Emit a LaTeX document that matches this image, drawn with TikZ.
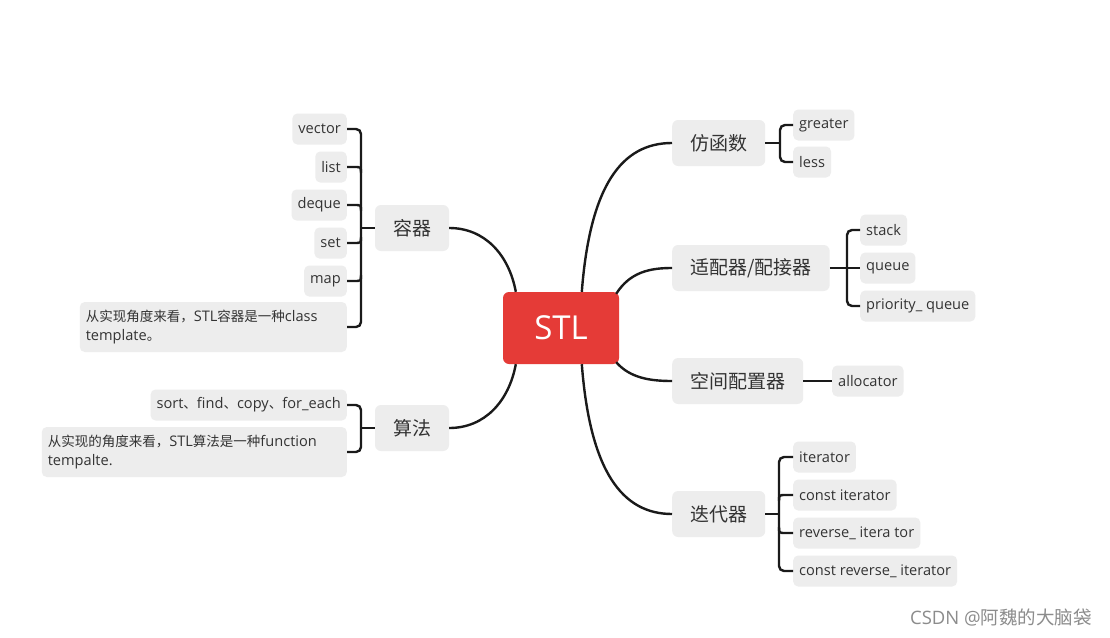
\documentclass[tikz,border=0pt]{standalone}
\usepackage{fontspec}
\setmainfont{Open Sans}
\newfontfamily\cjk{Noto Sans CJK SC}
\newcommand\zh[1]{{\cjk\fontsize{13.5}{19.5}\selectfont #1}}
\usetikzlibrary{calc}
\definecolor{leaf}{HTML}{EDEDED}
\definecolor{stlred}{HTML}{E53B37}
\definecolor{ln}{HTML}{1A1A1A}
\definecolor{txt}{HTML}{333333}
\begin{document}
\begin{tikzpicture}[x=1pt,y=-1pt,
 leafbox/.style={fill=leaf, rounded corners=5pt, minimum height=31pt, inner xsep=6pt, inner ysep=0pt, font=\fontsize{14.6}{16}\selectfont, text=txt},
 longbox/.style={leafbox, minimum height=50pt, align=left, font=\fontsize{14.6}{19.5}\selectfont},
 mainbox/.style={fill=leaf, rounded corners=6pt, minimum height=46pt, inner xsep=18pt, font=\cjk\fontsize{19}{22}\selectfont, text=txt},
 conn/.style={draw=ln, line width=2.4pt},
 br/.style={conn, rounded corners=5pt}]
\useasboundingbox[fill=white] (0,0) rectangle (1110,637);

% central
\node[fill=stlred, rounded corners=6pt, minimum width=116pt, minimum height=72pt, text=white, font=\fontsize{33}{36}\selectfont] (stl) at (561,328) {STL};

% main nodes
\node[mainbox] (rq) at (412,228) {容器};
\node[mainbox] (sf) at (412,428) {算法};
\node[mainbox, anchor=west] (fhs) at (672,143) {仿函数};
\node[mainbox, anchor=west] (spq) at (672,268) {适配器/配接器};
\node[mainbox, anchor=west] (kj) at (672,381) {空间配置器};
\node[mainbox, anchor=west] (ddq) at (672,514) {迭代器};

% left leaves (容器)
\node[leafbox, anchor=east] (vector) at (347,129) {vector};
\node[leafbox, anchor=east] (list) at (347,167) {list};
\node[leafbox, anchor=east] (deque) at (347,205) {deque};
\node[leafbox, anchor=east] (set) at (347,243) {set};
\node[leafbox, anchor=east] (map) at (347,281) {map};
\node[longbox, anchor=east, text width=255pt] (cls) at (347,327) {\zh{从实现角度来看，}STL\zh{容器是一种}class\\template\zh{。}};

% left leaves (算法)
\node[leafbox, anchor=east] (sort) at (347,405) {sort\zh{、}find\zh{、}copy\zh{、}for\_each};
\node[longbox, anchor=east, text width=293pt] (fun) at (347,452) {\zh{从实现的角度来看，}STL\zh{算法是一种}function\\tempalte.};

% right leaves
\node[leafbox, anchor=west] (greater) at (793,125) {greater};
\node[leafbox, anchor=west] (less) at (793,162) {less};
\node[leafbox, anchor=west] (stack) at (860,230) {stack};
\node[leafbox, anchor=west] (queue) at (860,268) {queue};
\node[leafbox, anchor=west] (pq) at (860,306) {priority\_ queue};
\node[leafbox, anchor=west] (alloc) at (832,381) {allocator};
\node[leafbox, anchor=west] (it) at (793,457) {iterator};
\node[leafbox, anchor=west] (cit) at (793,495) {const iterator};
\node[leafbox, anchor=west] (rit) at (793,533) {reverse\_ itera tor};
\node[leafbox, anchor=west] (crit) at (793,571) {const reverse\_ iterator};

% main curves
\draw[conn] ($(stl.north west)+(13,0)$) .. controls (509,255) and (485,228) .. (rq.east);
\draw[conn] ($(stl.south west)+(13,0)$) .. controls (509,401) and (485,428) .. (sf.east);
\draw[conn] ($(stl.north west)+(79,0)$) .. controls (590,185) and (622,143) .. (fhs.west);
\draw[conn] ($(stl.north east)+(-3,2)$) .. controls (630,272) and (650,268) .. (spq.west);
\draw[conn] ($(stl.south east)+(-3,-2)$) .. controls (630,378) and (650,381) .. (kj.west);
\draw[conn] ($(stl.south west)+(79,0)$) .. controls (590,471) and (622,514) .. (ddq.west);

% bracket 容器
\coordinate (b1) at (361,228);
\draw[conn] (rq.west) -- (b1);
\draw[br] (vector.east) -- (361,129) -- (361,327) -- (cls.east);
\draw[conn] (list.east) -- ++(7,0) .. controls (361,167) .. (361,173);
\draw[conn] (deque.east) -- ++(7,0) .. controls (361,205) .. (361,211);
\draw[conn] (set.east) -- ++(7,0) .. controls (361,243) .. (361,237);
\draw[conn] (map.east) -- ++(7,0) .. controls (361,281) .. (361,275);

% bracket 算法
\coordinate (b2) at (361,428);
\draw[conn] (sf.west) -- (b2);
\draw[br] (sort.east) -- (361,405) -- (361,452) -- (fun.east);

% bracket 仿函数
\coordinate (b3) at (780,143);
\draw[conn] (fhs.east) -- (b3);
\draw[br] (greater.west) -- (780,125) -- (780,162) -- (less.west);

% bracket 适配器
\draw[conn] (spq.east) -- (queue.west);
\draw[br] (stack.west) -- (847,230) -- (847,306) -- (pq.west);

% allocator
\draw[conn] (kj.east) -- (alloc.west);

% bracket 迭代器
\coordinate (b4) at (779,514);
\draw[conn] (ddq.east) -- (b4);
\draw[br] (it.west) -- (779,457) -- (779,571) -- (crit.west);
\draw[conn] (cit.west) -- ++(-7,0) .. controls (779,495) .. (779,501);
\draw[conn] (rit.west) -- ++(-7,0) .. controls (779,533) .. (779,527);

% watermark
\node[text=black!45, font=\fontsize{18.5}{20}\selectfont] (wm) at (1001,618) {CSDN @{\cjk 阿魏的大脑袋}};
\end{tikzpicture}
\end{document}
